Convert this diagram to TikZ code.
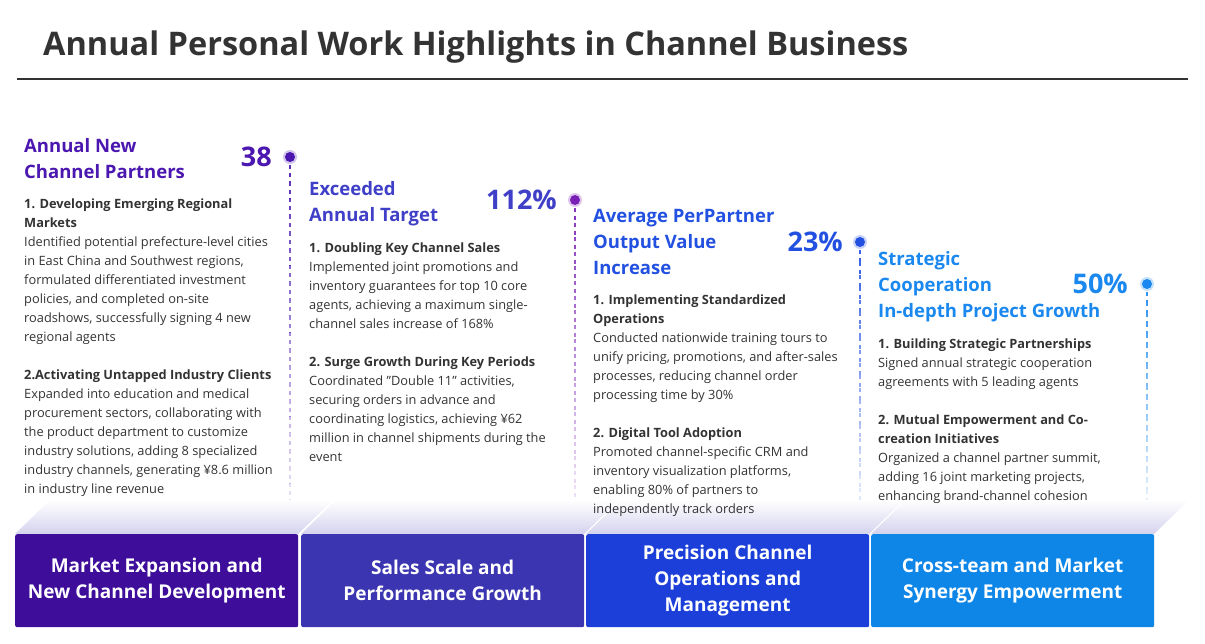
\documentclass[tikz,border=0pt]{standalone}
\usepackage{fontspec}
\setmainfont{Open Sans}
\usetikzlibrary{positioning}
\definecolor{cA}{HTML}{3E0E9B}
\definecolor{cB}{HTML}{3B35B2}
\definecolor{cC}{HTML}{1B3FD8}
\definecolor{cD}{HTML}{0E86E8}
\definecolor{hA}{HTML}{4B17B0}
\definecolor{hB}{HTML}{3F3FC8}
\definecolor{hC}{HTML}{2250E0}
\definecolor{hD}{HTML}{1A88EE}
\definecolor{dB}{HTML}{7A1FB5}
\definecolor{txt}{HTML}{333333}
\tikzset{
  headtext/.style={anchor=north west, inner sep=0pt, align=left, font=\fontsize{18.5}{26}\selectfont\bfseries},
  numtext/.style={anchor=east, inner sep=0pt, font=\fontsize{27}{30}\selectfont\bfseries},
  bodytext/.style={anchor=north west, inner sep=0pt, align=left, text=txt, font=\fontsize{12.8}{19}\selectfont},
  bandbox/.style={anchor=north west, inner sep=0pt, minimum width=283pt, minimum height=93pt, rounded corners=2pt, text=white, align=center, font=\fontsize{19}{26}\selectfont\bfseries},
}
\newcommand{\stemline}[3]{% x, y, colour
  \foreach \k in {0,...,19}{
    \draw[#3, line width=1.3pt, dash pattern=on 4pt off 4pt, opacity={0.9-0.04*\k}]
      (#1,{#2+8+\k*(500-#2-8)/20}) -- (#1,{#2+8+(\k+1)*(500-#2-8)/20});
  }
  \fill[#3!25] (#1,#2) circle (7pt);
  \fill[#3] (#1,#2) circle (5pt);
}
\begin{document}
\begin{tikzpicture}[x=1pt,y=-1pt]
  \useasboundingbox (0,0) rectangle (1205,644);
  \node[anchor=west, inner sep=0pt, text=txt, font=\fontsize{32.5}{36}\selectfont\bfseries] (title) at (43,47) {Annual Personal Work Highlights in Channel Business};
  \draw[txt, line width=1.5pt] (17,79) -- (1188,79);

  % fading bands above the boxes
  \foreach \x in {15,301,586,871}{
    \shade[top color=white, bottom color=cB!22] (\x,534) -- (\x+283,534) -- (\x+318,500) -- (\x+35,500) -- cycle;
  }

  % stems
  \stemline{290}{157}{hA}
  \stemline{575}{200}{dB}
  \stemline{860}{242}{hC}
  \stemline{1147}{284}{hD}

  % column 1
  \node[headtext, text=hA] (headA) at (24,138) {Annual New\\Channel Partners};
  \node[numtext, text=hA] (numA) at (272,157) {38};
  \node[bodytext] (bodyA) at (24,199) {\textbf{1. Developing Emerging Regional}\\\textbf{Markets}\\Identified potential prefecture-level cities\\in East China and Southwest regions,\\formulated differentiated investment\\policies, and completed on-site\\roadshows, successfully signing 4 new\\regional agents\\[19pt]\textbf{2.Activating Untapped Industry Clients}\\Expanded into education and medical\\procurement sectors, collaborating with\\the product department to customize\\industry solutions, adding 8 specialized\\industry channels, generating ¥8.6 million\\in industry line revenue};

  % column 2
  \node[headtext, text=hB] (headB) at (309,181) {Exceeded\\Annual Target};
  \node[numtext, text=hB] (numB) at (557,200) {112\%};
  \node[bodytext] (bodyB) at (309,243) {\textbf{1. Doubling Key Channel Sales}\\Implemented joint promotions and\\inventory guarantees for top 10 core\\agents, achieving a maximum single-\\channel sales increase of 168\%\\[19pt]\textbf{2. Surge Growth During Key Periods}\\Coordinated "Double 11" activities,\\securing orders in advance and\\coordinating logistics, achieving ¥62\\million in channel shipments during the\\event};

  % column 3
  \node[headtext, text=hC] (headC) at (593,209) {Average PerPartner\\Output Value\\Increase};
  \node[numtext, text=hC] (numC) at (843,242) {23\%};
  \node[bodytext] (bodyC) at (593,295) {\textbf{1. Implementing Standardized}\\\textbf{Operations}\\Conducted nationwide training tours to\\unify pricing, promotions, and after-sales\\processes, reducing channel order\\processing time by 30\%\\[19pt]\textbf{2. Digital Tool Adoption}\\Promoted channel-specific CRM and\\inventory visualization platforms,\\enabling 80\% of partners to\\independently track orders};

  % column 4
  \node[headtext, text=hD] (headD) at (878,251) {Strategic\\Cooperation\\In-depth Project Growth};
  \node[numtext, text=hD] (numD) at (1128,284) {50\%};
  \node[bodytext] (bodyD) at (878,339) {\textbf{1. Building Strategic Partnerships}\\Signed annual strategic cooperation\\agreements with 5 leading agents\\[19pt]\textbf{2. Mutual Empowerment and Co-}\\\textbf{creation Initiatives}\\Organized a channel partner summit,\\adding 16 joint marketing projects,\\enhancing brand-channel cohesion};

  % bottom boxes
  \node[bandbox, fill=cA] (boxA) at (15,534) {Market Expansion and\\New Channel Development};
  \node[bandbox, fill=cB] (boxB) at (301,534) {Sales Scale and\\Performance Growth};
  \node[bandbox, fill=cC] (boxC) at (586,534) {Precision Channel\\Operations and\\Management};
  \node[bandbox, fill=cD] (boxD) at (871,534) {Cross-team and Market\\Synergy Empowerment};
\end{tikzpicture}
\end{document}
